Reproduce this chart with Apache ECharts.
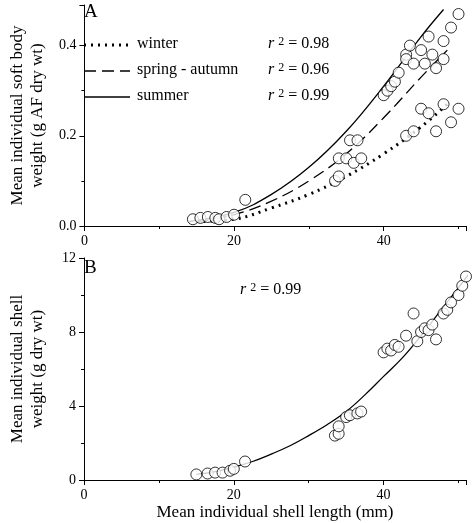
<!DOCTYPE html><html><head><meta charset="utf-8"><script src="https://cdn.jsdelivr.net/npm/echarts@6/dist/echarts.min.js"></script></head><body style="margin:0"><div id="c" style="width:474px;height:523px"></div><script>
const ptsA=[[14.5,0.015],[15.5,0.018],[16.5,0.02],[17.5,0.018],[18,0.015],[19,0.02],[20,0.025],[21.5,0.058],[33.5,0.1],[34,0.11],[34,0.15],[35,0.15],[35.5,0.19],[36.5,0.19],[36,0.14],[37,0.15],[40,0.29],[40.5,0.3],[41,0.31],[41.5,0.32],[42,0.34],[43,0.38],[43.5,0.4],[43,0.37],[44,0.36],[45,0.39],[45.5,0.36],[46,0.42],[46.5,0.38],[47,0.35],[48,0.41],[48,0.37],[49,0.44],[50,0.47],[43,0.2],[44,0.21],[45,0.26],[46,0.25],[47,0.21],[48,0.27],[49,0.23],[50,0.26]];
const summer=[[14,0.01],[20,0.03],[25,0.07],[30,0.13],[35,0.21],[40,0.31],[45,0.42],[48,0.48]];
const spring=[[15,0.01],[20,0.025],[25,0.055],[30,0.1],[35,0.16],[40,0.24],[45,0.33],[48.5,0.39]];
const winter=[[15,0.01],[20,0.015],[25,0.04],[30,0.07],[35,0.11],[40,0.16],[45,0.22],[48.5,0.27]];
const ptsB=[[15,0.3],[16.5,0.35],[17.5,0.4],[18.5,0.4],[19.5,0.5],[20,0.6],[21.5,1.0],[33.5,2.4],[34,2.5],[34,2.9],[35,3.4],[35.5,3.5],[36.5,3.6],[37,3.7],[40,6.9],[40.5,7.1],[41,7.0],[41.5,7.3],[42,7.2],[43,7.8],[44,9.0],[44.5,7.5],[45,8.0],[45.5,8.2],[46,8.1],[46.5,8.4],[47,7.6],[48,9.0],[48.5,9.2],[49,9.6],[50,10.0],[50.5,10.5],[51,11.0]];
const curveB=[[15,0.3],[17.5,0.45],[20,0.7],[22.5,1.0],[25,1.4],[27.5,1.85],[30,2.4],[32.5,3.0],[35,3.7],[37.5,4.6],[40,5.6],[42.5,6.6],[45,7.8],[47.5,9.1],[50,10.4],[51.5,11.2]];
const F='Liberation Serif';
const ts={fontFamily:F,fontSize:14,color:'#000'};
const sc=d=>({type:'scatter',data:d,symbolSize:11,itemStyle:{color:'#fff',borderColor:'#000',borderWidth:1},z:3});
const ln=(d,t,w,x,y)=>({type:'line',data:d,smooth:0.4,symbol:'none',xAxisIndex:x,yAxisIndex:y,lineStyle:{color:'#000',width:w,type:t}});
const xa=(i,name)=>({gridIndex:i,type:'value',min:0,max:51,interval:20,axisLine:{lineStyle:{color:'#000'}},axisTick:{lineStyle:{color:'#000'}},minorTick:{show:true,splitNumber:2,lineStyle:{color:'#000'}},splitLine:{show:false},axisLabel:Object.assign({},ts,{fontSize:14,showMaxLabel:false}),name:name,nameLocation:'middle',nameGap:24,nameTextStyle:Object.assign({},ts,{fontSize:17})});
const ya=(i,max,iv,fmt,name)=>({gridIndex:i,type:'value',min:0,max:max,interval:iv,axisLine:{show:true,lineStyle:{color:'#000'}},axisTick:{show:true,lineStyle:{color:'#000'}},minorTick:{show:true,splitNumber:2,lineStyle:{color:'#000'}},splitLine:{show:false},axisLabel:Object.assign({},ts,{fontSize:14,formatter:fmt,showMaxLabel:max===12}),name:name,nameLocation:'middle',nameGap:36,nameTextStyle:Object.assign({},ts,{fontSize:17,lineHeight:20})});
const c=echarts.init(document.getElementById('c'));
const r2=(l,t,v)=>({type:'text',left:l,top:t,style:{text:'{i|r} {s|2} = '+v,rich:{i:{font:'italic 16px '+F},s:{font:'12px '+F,verticalAlign:'top'}},font:'16px '+F}});
c.setOption({animation:false,
grid:[{left:76,top:5,width:390,height:221},{left:76,top:258,width:390,height:222}],
xAxis:[xa(0,''),xa(1,'Mean individual shell length (mm)')],
yAxis:[ya(0,0.49,0.2,v=>v.toFixed(1),'Mean individual soft body\nweight (g AF dry wt)'),ya(1,12,4,v=>v,'Mean individual shell\nweight (g dry wt)')],
series:[sc(ptsA),ln(summer,'solid',1.3,0,0),ln(spring,[12,6],1.3,0,0),ln(winter,[2,5],3,0,0),Object.assign(sc(ptsB),{xAxisIndex:1,yAxisIndex:1}),ln(curveB,'solid',1.3,1,1)],
graphic:[
{type:'text',left:84,top:3,style:{text:'A',font:'19px '+F}},
{type:'text',left:84,top:259,style:{text:'B',font:'19px '+F}},
{type:'line',shape:{x1:84,y1:45,x2:130,y2:45},style:{stroke:'#000',lineWidth:3,lineDash:[2,5]}},
{type:'line',shape:{x1:84,y1:71,x2:130,y2:71},style:{stroke:'#000',lineWidth:1.3,lineDash:[12,6]}},
{type:'line',shape:{x1:84,y1:97,x2:130,y2:97},style:{stroke:'#000',lineWidth:1.3}},
{type:'text',left:137,top:36,style:{text:'winter',font:'16px '+F}},
{type:'text',left:137,top:62,style:{text:'spring - autumn',font:'16px '+F}},
{type:'text',left:137,top:88,style:{text:'summer',font:'16px '+F}},
r2(268,36,'0.98'),r2(268,62,'0.96'),r2(268,88,'0.99'),r2(240,282,'0.99')
]});
</script></body></html>
